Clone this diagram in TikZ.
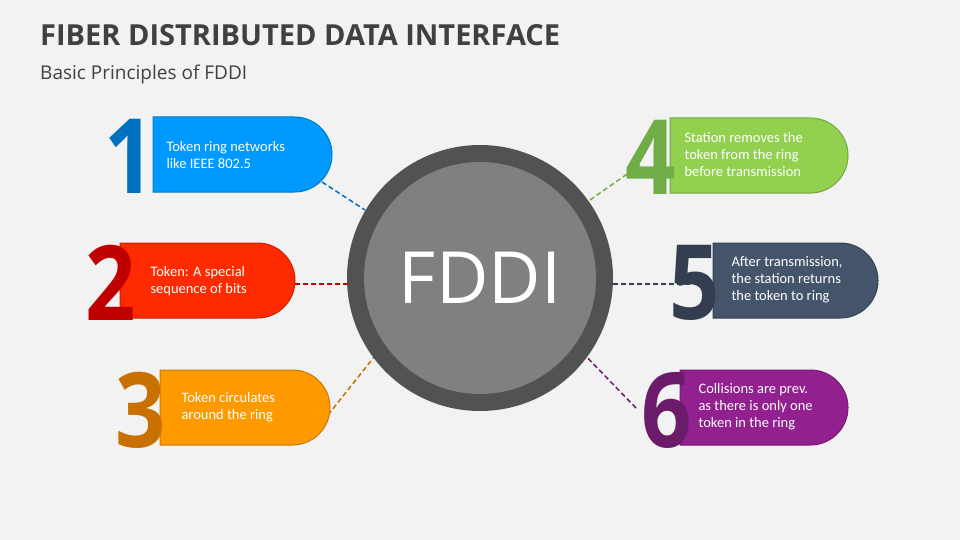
\documentclass[tikz,border=0pt]{standalone}
\usepackage{fontspec}
\setmainfont{Carlito}
\newfontfamily\headfont{Open Sans}
\usetikzlibrary{positioning}
\definecolor{bgc}{HTML}{F2F2F2}
\definecolor{cA}{HTML}{0099FF}\definecolor{dA}{HTML}{0070C0}
\definecolor{cB}{HTML}{FF2A00}\definecolor{dB}{HTML}{C00000}
\definecolor{cC}{HTML}{FF9900}\definecolor{dC}{HTML}{C87000}
\definecolor{cD}{HTML}{92D050}\definecolor{dD}{HTML}{70AD47}
\definecolor{cE}{HTML}{44546A}\definecolor{dE}{HTML}{333F50}
\definecolor{cF}{HTML}{92208F}\definecolor{dF}{HTML}{6A1B6A}
\newcommand{\tab}[6]{% x1,y1,x2,y2,fill,name
  \fill[#5,draw=#5!80!black,line width=1pt] (#1,#2) -- (#3-37.5,#2) arc[start angle=-90,end angle=90,radius=37.5] -- (#1,#4) -- cycle;
  \coordinate (#6) at (#1,#2);}
\tikzset{
  info/.style={anchor=west,align=left,text=white,font=\fontsize{14.5}{17}\selectfont},
  digit/.style={font=\headfont\bfseries\fontsize{104}{104}\selectfont,inner sep=0pt,xscale=0.85},
  link/.style={dash pattern=on 5pt off 3pt,line width=1.5pt}
}
\begin{document}
\begin{tikzpicture}[x=1pt,y=-1pt]
\fill[bgc] (0,0) rectangle (960,540);
\useasboundingbox (0,0) rectangle (960,540);

% heading
\node[anchor=west,inner sep=0pt,font=\headfont\bfseries\fontsize{29}{32}\selectfont,text=black!75] (title) at (40,35) {FIBER DISTRIBUTED DATA INTERFACE};
\node[anchor=west,inner sep=0pt,font=\headfont\fontsize{19}{22}\selectfont,text=black!75] (sub) at (40,75) {Basic Principles of FDDI};

% connectors
\coordinate (h1) at (365,210); \coordinate (h2) at (350,284); \coordinate (h3) at (378,352);
\coordinate (h4) at (590,200); \coordinate (h5) at (612,284); \coordinate (h6) at (580,350);
\draw[link,dA] (322,182) -- (h1);
\draw[link,dB] (295,284) -- (h2);
\draw[link,dC] (328,415) -- (h3);
\draw[link,dD] (640,165) -- (h4);
\draw[link,dE] (690,284) -- (h5);
\draw[link,dF] (636,408) -- (h6);

% centre
\fill[black!68] (480,278) circle (133);
\fill[black!50] (480,278) circle (116);
\node[text=white,font=\headfont\fontsize{72}{72}\selectfont] (hub) at (480,278) {FDDI};

% tabs
\tab{153}{117}{332}{192}{cA}{t1}
\tab{120}{243}{295}{318}{cB}{t2}
\tab{160}{370}{330}{445}{cC}{t3}
\tab{670}{118}{848}{193}{cD}{t4}
\tab{713}{243}{878}{318}{cE}{t5}
\tab{680}{370}{848}{445}{cF}{t6}

% digits
\node[digit,text=dA,anchor=east] (n1) at (155,156) {1};
\node[digit,text=dB,anchor=east] (n2) at (136,283) {2};
\node[digit,text=dC,anchor=east] (n3) at (166,410) {3};
\node[digit,text=dD,anchor=east] (n4) at (676,157) {4};
\node[digit,text=dE,anchor=east] (n5) at (720,283) {5};
\node[digit,text=dF,anchor=east] (n6) at (692,410) {6};

% texts
\node[info] (x1) at (163,155) {Token ring networks\\like IEEE 802.5};
\node[info] (x2) at (147,281) {Token: A special\\sequence of bits};
\node[info] (x3) at (178,407) {Token circulates\\around the ring};
\node[info] (x4) at (681,155) {Station removes the\\token from the ring\\before transmission};
\node[info] (x5) at (728,280) {After transmission,\\the station returns\\the token to ring};
\node[info] (x6) at (695,407) {Collisions are prev.\\as there is only one\\token in the ring};
\end{tikzpicture}
\end{document}
